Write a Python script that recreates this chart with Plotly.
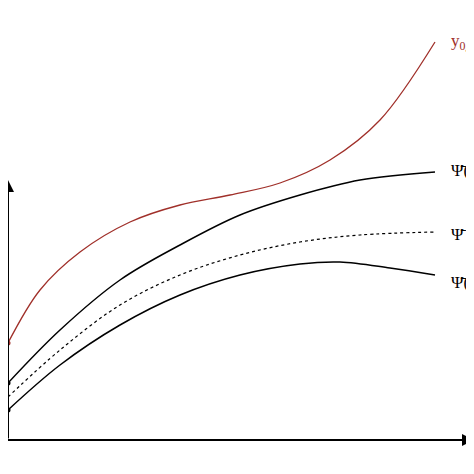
import plotly.graph_objects as go

# values (pixel-like units, y grows downward)
red_x = [8, 40, 80, 130, 180, 230, 280, 330, 380, 435]
red_y = [343, 290, 252, 222, 205, 195, 183, 160, 120, 42]
up_x = [8, 60, 120, 180, 240, 300, 360, 435]
up_y = [383, 330, 280, 245, 215, 195, 180, 172]
dot_x = [8, 60, 120, 180, 240, 300, 360, 435]
dot_y = [397, 350, 305, 275, 255, 242, 235, 232]
low_x = [8, 60, 120, 180, 240, 300, 340, 390, 435]
low_y = [410, 365, 325, 295, 275, 264, 262, 268, 275]

labels = ["y<sub>0<sub>a</sub></sub>", "Ψ̄(x)", "Ψ̄ = Ψ", "Ψ̄(x)"]
label_y = [42, 170, 234, 282]
label_c = ["#a0302a", "black", "black", "black"]

fig = go.Figure()
fig.add_trace(go.Scatter(x=red_x, y=red_y, mode='lines', line=dict(color='#a0302a', width=1.3, shape='spline')))
fig.add_trace(go.Scatter(x=up_x, y=up_y, mode='lines', line=dict(color='black', width=1.5, shape='spline')))
fig.add_trace(go.Scatter(x=dot_x, y=dot_y, mode='lines', line=dict(color='black', width=1.2, dash='dot', shape='spline')))
fig.add_trace(go.Scatter(x=low_x, y=low_y, mode='lines', line=dict(color='black', width=1.5, shape='spline')))
fig.add_trace(go.Scatter(x=[red_x[0]], y=[red_y[0]], mode='markers', marker=dict(color='#a0302a', size=5)))
fig.add_trace(go.Scatter(x=[up_x[0], low_x[0]], y=[up_y[0], low_y[0]], mode='markers',
                         marker=dict(color='black', size=5)))

# axes with arrows
fig.add_annotation(x=8, y=180, ax=8, ay=440, xref='x', yref='y', axref='x', ayref='y',
                   showarrow=True, arrowhead=2, arrowsize=1.2, arrowwidth=2, arrowcolor='black', text='')
fig.add_annotation(x=474, y=440, ax=6, ay=440, xref='x', yref='y', axref='x', ayref='y',
                   showarrow=True, arrowhead=2, arrowsize=1.2, arrowwidth=2, arrowcolor='black', text='')

for t, yy, c in zip(labels, label_y, label_c):
    fig.add_annotation(x=449, y=yy, text=t, showarrow=False, xanchor='left',
                       font=dict(family='Liberation Serif', size=17, color=c))

fig.update_layout(
    width=474, height=474, margin=dict(l=0, r=0, t=0, b=0),
    plot_bgcolor='white', paper_bgcolor='white', showlegend=False,
    xaxis=dict(range=[8, 482], visible=False),
    yaxis=dict(range=[482, 8], visible=False),
)
fig.write_html("out.html")
